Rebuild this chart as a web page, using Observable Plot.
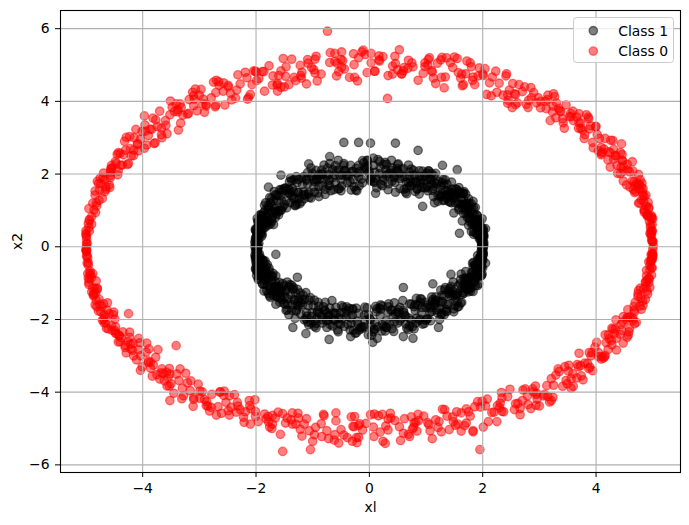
<!DOCTYPE html>
<html><head><meta charset="utf-8">
<script src="https://cdn.jsdelivr.net/npm/d3@7"></script>
<script src="https://cdn.jsdelivr.net/npm/@observablehq/plot@0.6"></script>
<style>body{margin:0;background:#fff;}</style>
</head><body><div id="chart"></div>
<script>
// Class 1 (inner ring) points
const class1PartA = [
[2.01,0.11],[1.99,-0.18],[2.02,0.27],[2.00,-0.04],[1.99,0.31],[2.01,0.01],[2.00,0.46],[2.02,0.12],[1.98,0.07],[2.00,0.38],[1.99,0.26],[2.01,0.50],
[1.97,0.55],[1.99,0.10],[1.98,0.39],[2.00,0.29],[1.97,0.26],[1.95,0.55],[1.94,0.74],[1.96,0.37],[2.05,0.50],[1.92,0.71],[1.95,0.25],[1.93,0.56],[1.94,0.41],
[1.91,0.54],[1.89,0.88],[1.90,0.74],[1.59,0.37],[1.85,0.89],[1.88,0.58],[1.84,1.07],[1.87,0.75],[1.85,0.60],[1.82,0.90],[1.81,1.05],[1.84,0.75],
[1.76,1.20],[1.79,0.79],[1.78,0.96],[1.75,1.32],[1.81,0.61],[1.74,0.93],[1.71,1.19],[1.76,0.78],[1.72,1.10],[1.66,1.32],[1.70,0.92],[1.68,1.15],[1.65,1.46],
[1.64,1.07],[1.60,1.46],[1.62,1.32],[1.66,0.92],[1.53,1.43],[1.56,1.21],[1.52,1.59],[1.58,1.07],[1.49,1.36],[1.46,1.59],[1.52,1.20],[1.45,1.78],[1.48,1.45],
[1.45,1.21],[1.39,1.55],[1.37,1.72],[1.42,1.38],[1.29,2.24],[1.31,1.70],[1.37,1.33],[1.34,1.55],[1.30,1.85],[1.28,1.46],[1.23,1.79],[1.26,1.67],[1.30,1.27],[1.55,2.12],
[1.15,1.77],[1.21,1.41],[1.14,1.95],[1.18,1.64],[1.11,1.55],[1.06,1.87],[1.09,1.73],[1.05,2.08],[1.13,1.38],[0.97,1.95],[1.02,1.65],[0.99,1.84],[1.03,1.54],[0.94,1.11],
[0.88,2.09],[0.93,1.63],[0.91,1.82],[0.89,1.94],[0.86,2.65],[0.84,1.59],[0.79,1.95],[0.78,2.10],[0.82,1.80],[0.70,1.95],[0.74,1.69],[0.69,2.25],[0.71,2.06],[0.73,1.80],
[0.65,1.78],[0.60,2.15],[0.62,1.93],[0.66,1.61],[0.49,2.09],[0.54,1.87],[0.50,2.26],[0.53,2.02],[0.46,2.85],[0.45,1.77],[0.40,2.17],[0.42,2.03],[0.44,1.94],[0.39,2.38],
[0.29,2.11],[0.34,1.73],[0.30,2.27],[0.32,2.00],[0.23,1.91],[0.19,2.17],[0.18,2.35],[0.24,1.82],[0.11,1.47],[0.08,2.24],[0.12,1.88],[0.10,2.05],[0.07,2.44],[0.02,2.85],
[0.02,1.85],[-0.03,2.22],[0.00,2.07],[-0.04,2.38],[-0.08,2.12],[-0.12,1.76],[-0.10,2.31],[-0.19,2.87],[-0.19,1.93],[-0.23,2.16],[-0.18,1.68],[-0.22,2.03],
[-0.33,2.24],[-0.29,1.85],[-0.31,2.07],[-0.45,2.87],[-0.39,1.76],[-0.44,2.10],[-0.45,2.29],[-0.41,1.95],[-0.54,2.12],[-0.50,1.84],[-0.52,1.97],[-0.55,2.38],[-0.49,1.67],
[-0.60,1.76],[-0.65,2.13],[-0.62,1.98],[-0.74,2.17],[-0.70,1.68],[-0.72,1.99],[-0.71,1.83],[-0.70,2.48],[-0.78,1.58],[-0.83,1.99],[-0.81,1.86],[-0.84,2.11],
[-0.93,1.87],[-0.89,1.65],[-0.94,2.10],[-0.89,1.38],[-0.98,1.66],[-1.02,1.93],[-1.03,2.17],[-0.97,1.50],[-1.11,1.83],[-1.07,1.50],[-1.09,1.73],[-1.07,2.28],
[-1.16,1.51],[-1.20,1.89],[-1.18,1.71],[-1.15,1.32],[-1.28,1.76],[-1.25,1.49],[-1.29,1.93],[-1.24,1.33],[-1.32,1.34],[-1.36,1.61],[-1.34,1.52],[-1.37,1.82],[-1.31,1.15],
[-1.43,1.59],[-1.39,1.21],[-1.41,1.47],[-1.47,1.26],[-1.51,1.60],[-1.56,1.97],[-1.46,1.07],[-1.57,1.40],[-1.53,1.09],[-1.58,1.57],[-1.55,1.27],
[-1.60,0.97],[-1.63,1.27],[-1.78,1.64],[-1.64,1.42],[-1.70,1.26],[-1.67,0.97],[-1.68,1.11],[-1.66,0.80],[-1.72,0.95],[-1.75,1.21],[-1.76,1.35],[-1.71,0.82],
[-1.79,1.02],[-1.77,0.68],[-1.78,0.93],[-1.82,0.65],[-1.84,1.00],[-1.83,0.87],[-1.85,1.14],[-1.88,0.86],[-1.86,0.51],[-1.87,0.68],
[-1.90,0.53],[-1.91,0.85],[-1.90,0.70],[-1.89,0.34],[-1.94,0.68],[-1.92,0.38],[-1.93,0.55],[-1.95,0.22],[-1.97,0.54],[-1.97,0.69],[-1.96,0.39],
[-1.99,0.40],[-1.98,0.14],[-1.99,0.50],[-1.99,0.10],[-2.00,0.26],[-2.01,0.45],[-1.98,-0.05],[-2.01,0.23],[-2.00,0.02],[-2.02,0.12],
[-2.01,-0.12],[-1.99,0.07],[-2.02,-0.24],[-1.65,-0.21],[-2.00,0.04],[-2.01,-0.29],[-1.99,-0.07],[-2.00,-0.44],[-1.98,-0.11],[-1.99,-0.26],[-1.97,0.00],
[-1.97,-0.15],[-1.99,-0.45],[-2.00,-0.63],[-1.96,-0.50],[-1.94,-0.20],[-1.98,-0.69],[-1.95,-0.37],[-1.92,-0.34],[-1.95,-0.72],[-1.93,-0.54],[-1.96,-0.90],
[-1.91,-0.73],[-1.88,-0.36],[-1.90,-0.54],[-1.89,-1.01],[-1.85,-0.58],[-1.87,-0.77],[-1.84,-0.39],[-1.82,-0.71],[-1.85,-1.03],[-1.86,-1.22],[-1.83,-0.80],
[-1.80,-1.07],[-1.76,-0.68],[-1.78,-0.85],[-1.81,-1.21],[-1.71,-0.81],[-1.74,-1.09],[-1.76,-1.35],[-1.73,-0.96],[-1.70,-1.33],[-1.66,-0.96],[-1.68,-1.11],[-1.65,-0.80],
[-1.60,-1.10],[-1.64,-1.36],[-1.65,-1.58],[-1.59,-0.98],[-1.57,-1.38],[-1.53,-1.01],[-1.58,-1.53],[-1.55,-1.23],[-1.27,-0.84],[-1.46,-1.19],[-1.51,-1.55],[-1.45,-0.97],[-1.49,-1.38],
[-1.44,-1.58],[-1.39,-1.32],[-1.45,-1.74],[-1.35,-2.22],[-1.30,-1.27],[-1.36,-1.60],[-1.33,-1.45],[-1.37,-1.75],[-1.27,-1.61],[-1.22,-1.27],[-1.29,-1.74],[-1.24,-1.42],[-1.31,-1.97],
[-1.14,-1.45],[-1.21,-1.86],[-1.18,-1.60],[-1.12,-2.39],[-1.11,-1.81],[-1.06,-1.47],[-1.12,-1.98],[-1.08,-1.62],[-0.97,-1.47],[-1.01,-1.81],[-1.03,-2.10],[-0.99,-1.62],
[-0.93,-1.98],[-0.89,-1.64],[-0.91,-1.77],[-0.94,-2.23],[-0.79,-1.74],[-0.83,-2.10],[-0.78,-1.53],[-0.71,-2.55],[-0.74,-2.02],[-0.70,-1.68],[-0.72,-1.91],[-0.75,-2.22],
[-0.59,-1.67],[-0.63,-2.00],[-0.61,-1.83],[-0.65,-2.18],[-0.54,-2.11],[-0.50,-1.81],[-0.55,-2.34],[-0.49,-1.62],[-0.41,-1.91],[-0.44,-2.19],[-0.40,-1.76],[-0.33,-2.47],
[-0.32,-2.10],[-0.29,-1.71],[-0.34,-2.29],[-0.30,-1.89],[-0.19,-1.83],[-0.22,-2.05],[-0.23,-2.37],[-0.12,-2.21],[-0.09,-1.89],[-0.08,-1.66],[0.06,-2.63],
[-0.02,-1.87],[0.03,-2.19],[0.01,-1.98],[0.14,-2.52],[0.08,-2.27],[0.12,-1.79],[0.10,-2.08],[0.11,-1.64],[0.19,-1.90],[0.23,-2.14],[0.20,-1.72],[0.22,-2.32],
[0.29,-2.04],[0.33,-1.80],[0.30,-2.22],[0.34,-1.57],[0.40,-1.74],[0.44,-2.07],[0.42,-1.92],[0.43,-2.33],[0.50,-2.10],[0.54,-1.67],[0.52,-1.83],[0.60,-2.47],
[0.60,-1.75],[0.64,-2.12],[0.62,-1.88],[0.60,-1.12],[0.70,-1.96],[0.74,-1.58],[0.71,-2.18],[0.77,-2.52],[0.79,-1.65],[0.83,-1.97],[0.81,-1.76],[0.82,-2.10],
[0.89,-1.99],[0.93,-1.67],[0.90,-1.43],[0.92,-1.80],[0.98,-1.53],[1.02,-1.98],[1.00,-1.67],[1.12,-1.02],[1.07,-1.80],[1.11,-1.51],[1.08,-2.04],[1.10,-1.38],
[1.16,-1.54],[1.20,-1.82],[1.22,-2.22],[1.17,-1.38],[1.24,-1.70],[1.28,-1.34],[1.26,-1.53],[1.27,-1.88],[1.32,-1.35],[1.36,-1.58],[1.33,-1.18],[1.35,-1.72],
[1.39,-1.59],[1.43,-1.35],[1.40,-1.19],[1.44,-0.76],[1.47,-1.22],[1.51,-1.62],[1.49,-1.31],[1.48,-0.97],[1.53,-1.33],[1.57,-1.07],[1.55,-1.50],
[1.60,-1.02],[1.64,-1.31],[1.61,-0.90],[1.63,-1.53],[1.67,-1.28],[1.70,-1.01],[1.67,-0.86],[1.69,-1.14],[1.72,-0.87],[1.75,-1.24],[1.73,-0.99],
[1.77,-1.05],[1.80,-0.71],[1.78,-0.84],[1.79,-1.22],[1.82,-0.70],[1.85,-0.98],[1.83,-0.55],[1.86,-0.94],[1.88,-0.68],[1.87,-0.54],[1.89,-0.81],
[1.90,-0.47],[1.91,-0.74],[2.05,-0.45],[1.93,-0.58],[1.94,-0.31],[1.92,-0.77],[1.95,-0.43],[1.96,-0.30],[1.97,-0.58],[1.95,-0.40],
[1.98,-0.41],[1.99,-0.08],[1.97,-0.26],[2.00,-0.58],[1.99,-0.07],[2.00,-0.34],[2.01,-0.18],[2.00,-0.25],[2.01,-0.02]
];
const class1PartB = [
[2.01,0.34],[1.99,-0.27],[2.02,0.32],[1.99,0.37],[2.00,0.17],[1.98,0.00],[2.01,0.45],[1.98,-0.02],[1.99,0.40],[1.97,0.23],[2.00,-0.11],[1.97,0.15],
[1.98,0.31],[1.96,0.45],[1.99,0.77],[1.96,0.36],[1.96,0.54],[1.94,0.22],[1.97,0.30],[1.94,0.67],[1.93,0.60],[1.91,0.65],[1.94,0.48],[1.91,0.85],
[1.90,0.47],[1.88,0.65],[1.91,0.32],[1.88,0.37],[1.86,0.72],[1.84,0.34],[1.87,1.08],[1.84,0.41],[1.82,0.65],[1.80,0.42],[1.83,1.25],[1.80,1.18],
[1.77,0.69],[1.75,0.59],[1.78,1.00],[1.75,1.03],[1.72,1.18],[1.70,1.01],[1.73,0.80],[1.70,1.45],[1.66,1.48],[1.64,1.17],[1.67,1.52],[1.64,0.71],
[1.60,1.50],[1.58,1.63],[1.61,1.17],[1.58,1.02],[1.54,1.58],[1.49,0.93],[1.56,1.53],[1.51,1.44],[1.47,1.46],[1.42,1.23],[1.49,1.33],[1.44,1.48],
[1.40,1.25],[1.35,1.42],[1.42,1.50],[1.37,1.43],[1.32,1.28],[1.27,1.40],[1.34,1.84],[1.29,1.77],[1.24,1.42],[1.19,1.73],[1.26,1.38],[1.21,1.25],
[1.15,1.21],[1.10,2.01],[1.17,2.02],[1.12,1.60],[1.07,1.84],[1.02,2.03],[1.09,1.85],[1.04,2.09],[0.97,1.62],[0.92,1.85],[1.00,1.62],[0.94,2.08],
[0.88,1.45],[0.83,1.76],[0.90,1.75],[0.85,1.59],[0.79,1.98],[0.74,2.14],[0.81,1.52],[0.76,1.75],[0.69,1.76],[0.64,1.50],[0.71,1.67],[0.66,1.46],
[0.59,1.91],[0.54,1.60],[0.61,1.58],[0.56,2.13],[0.49,2.15],[0.44,1.90],[0.51,2.28],[0.46,1.50],[0.38,2.11],[0.33,1.57],[0.40,1.80],[0.35,2.02],
[0.28,2.32],[0.23,1.68],[0.30,1.96],[0.25,2.26],[0.18,2.01],[0.13,1.62],[0.20,1.72],[0.15,2.40],[0.07,1.80],[0.02,1.81],[0.09,1.77],[0.04,1.91],
[-0.03,2.37],[-0.08,2.19],[-0.01,2.03],[-0.06,2.13],[-0.14,1.86],[-0.19,2.24],[-0.12,2.37],[-0.17,2.07],[-0.24,1.56],[-0.29,2.07],[-0.22,1.54],[-0.27,1.65],
[-0.34,1.79],[-0.39,2.00],[-0.32,1.56],[-0.37,1.95],[-0.45,2.24],[-0.50,1.54],[-0.43,2.09],[-0.48,1.97],[-0.55,1.59],[-0.60,2.23],[-0.53,1.60],[-0.58,2.09],
[-0.65,1.90],[-0.70,2.29],[-0.63,1.57],[-0.68,1.54],[-0.75,1.94],[-0.80,2.25],[-0.73,1.70],[-0.78,1.44],[-0.84,2.01],[-0.89,1.99],[-0.82,1.68],[-0.87,1.87],
[-0.93,1.84],[-0.98,1.84],[-0.91,1.48],[-0.96,1.79],[-1.03,1.34],[-1.08,1.45],[-1.01,2.03],[-1.06,1.36],[-1.11,1.86],[-1.16,1.93],[-1.09,2.04],[-1.14,1.43],
[-1.20,1.24],[-1.25,1.85],[-1.18,1.42],[-1.23,1.18],[-1.28,1.17],[-1.33,1.84],[-1.26,1.50],[-1.31,1.13],[-1.36,1.40],[-1.41,1.56],[-1.34,1.33],[-1.39,1.89],
[-1.43,1.49],[-1.48,1.60],[-1.41,1.79],[-1.46,1.53],[-1.50,1.16],[-1.55,1.01],[-1.48,1.62],[-1.53,1.53],[-1.57,1.01],[-1.62,0.99],[-1.55,1.57],[-1.60,0.88],
[-1.63,0.92],[-1.68,1.52],[-1.61,1.41],[-1.66,1.43],[-1.69,0.61],[-1.74,0.77],[-1.67,1.04],[-1.72,0.71],[-1.74,0.63],[-1.78,0.60],[-1.73,1.33],[-1.77,1.09],
[-1.80,0.72],[-1.83,1.21],[-1.79,1.12],[-1.82,0.70],[-1.84,0.66],[-1.87,0.73],[-1.83,0.55],[-1.86,0.71],[-1.88,0.56],[-1.90,0.51],[-1.87,0.93],[-1.90,0.67],
[-1.91,0.37],[-1.93,0.88],[-1.90,0.29],[-1.93,0.76],[-1.94,0.64],[-1.96,0.37],[-1.93,0.86],[-1.96,0.70],[-1.96,0.00],[-1.98,0.43],[-1.95,0.09],[-1.98,0.78],
[-1.97,0.25],[-1.99,0.21],[-1.97,0.34],[-1.99,0.02],[-1.98,-0.23],[-2.00,0.44],[-1.98,0.29],[-2.00,-0.24],[-1.99,-0.15],[-2.01,0.16],[-1.99,-0.33],[-2.01,0.49],
[-2.01,-0.35],[-1.99,0.29],[-2.02,0.00],[-1.99,-0.22],[-2.00,-0.56],[-1.98,-0.02],[-2.01,-0.61],[-1.98,0.17],[-1.99,-0.31],[-1.97,-0.06],[-2.00,-0.05],[-1.97,-0.60],
[-1.98,-0.68],[-1.96,-0.37],[-1.99,-0.79],[-1.96,-0.58],[-1.96,-0.86],[-1.94,-0.60],[-1.97,-0.57],[-1.94,-0.80],[-1.93,-0.28],[-1.91,-0.44],[-1.94,-0.79],[-1.91,-0.63],
[-1.90,-0.72],[-1.88,-1.03],[-1.91,-0.35],[-1.88,-0.81],[-1.86,-0.68],[-1.84,-0.91],[-1.87,-0.39],[-1.84,-0.63],[-1.82,-0.54],[-1.80,-0.73],[-1.83,-0.91],[-1.80,-0.49],
[-1.77,-0.59],[-1.75,-1.39],[-1.78,-1.29],[-1.75,-1.16],[-1.72,-0.91],[-1.70,-1.22],[-1.73,-0.80],[-1.70,-0.73],[-1.66,-1.25],[-1.64,-1.37],[-1.67,-1.15],[-1.64,-1.08],
[-1.60,-1.25],[-1.58,-1.42],[-1.61,-1.12],[-1.58,-1.27],[-1.54,-1.45],[-1.49,-1.22],[-1.56,-1.16],[-1.51,-1.07],[-1.47,-1.75],[-1.42,-1.10],[-1.49,-1.58],[-1.44,-1.43],
[-1.40,-1.04],[-1.35,-1.17],[-1.42,-1.87],[-1.37,-1.06],[-1.32,-1.48],[-1.27,-1.17],[-1.34,-1.12],[-1.29,-1.77],[-1.24,-1.63],[-1.19,-1.46],[-1.26,-1.51],[-1.21,-1.54],
[-1.15,-2.01],[-1.10,-1.91],[-1.17,-1.33],[-1.12,-1.26],[-1.07,-2.15],[-1.02,-1.92],[-1.09,-2.07],[-1.04,-1.40],[-0.97,-2.19],[-0.92,-1.81],[-0.99,-2.06],[-0.94,-2.11],
[-0.88,-1.83],[-0.83,-2.01],[-0.90,-1.53],[-0.85,-1.90],[-0.79,-1.77],[-0.74,-1.82],[-0.81,-1.65],[-0.76,-2.02],[-0.69,-2.14],[-0.64,-1.82],[-0.71,-1.89],[-0.66,-1.48],
[-0.59,-1.83],[-0.54,-1.97],[-0.61,-2.03],[-0.56,-2.29],[-0.49,-1.98],[-0.44,-1.81],[-0.51,-2.13],[-0.46,-1.66],[-0.38,-2.13],[-0.33,-1.96],[-0.40,-1.65],[-0.35,-1.70],
[-0.28,-2.30],[-0.23,-1.69],[-0.30,-1.72],[-0.25,-2.38],[-0.18,-2.29],[-0.13,-2.25],[-0.20,-2.13],[-0.15,-2.22],[-0.07,-2.02],[-0.02,-2.42],[-0.09,-2.20],[-0.04,-1.68],
[0.07,-2.34],[0.02,-2.01],[0.09,-2.28],[0.04,-2.44],[0.18,-1.69],[0.13,-1.71],[0.20,-1.60],[0.15,-2.20],[0.28,-2.32],[0.23,-1.63],[0.30,-2.21],[0.25,-2.19],
[0.38,-1.74],[0.33,-1.65],[0.40,-2.26],[0.35,-2.11],[0.49,-1.80],[0.44,-1.54],[0.51,-1.73],[0.46,-1.84],[0.59,-1.48],[0.54,-2.04],[0.61,-1.81],[0.56,-1.97],
[0.69,-2.28],[0.64,-1.91],[0.71,-1.57],[0.66,-2.24],[0.79,-2.26],[0.74,-2.02],[0.81,-1.59],[0.76,-2.20],[0.88,-2.03],[0.83,-1.42],[0.90,-1.53],[0.85,-1.60],
[0.97,-2.11],[0.92,-1.44],[0.99,-2.02],[0.94,-2.13],[1.07,-1.68],[1.02,-1.99],[1.09,-1.63],[1.03,-1.60],[1.15,-1.59],[1.10,-1.78],[1.17,-1.47],[1.12,-1.45],
[1.24,-2.00],[1.19,-1.74],[1.26,-1.19],[1.21,-1.50],[1.32,-1.87],[1.27,-1.84],[1.34,-1.12],[1.29,-1.51],[1.40,-1.28],[1.35,-1.77],[1.42,-1.14],[1.37,-1.78],
[1.47,-1.36],[1.42,-1.24],[1.49,-1.79],[1.44,-1.09],[1.54,-1.32],[1.49,-1.71],[1.56,-1.27],[1.51,-1.48],[1.61,-1.55],[1.56,-1.66],[1.63,-1.13],[1.58,-1.64],
[1.67,-1.05],[1.62,-0.75],[1.69,-0.88],[1.64,-1.26],[1.73,-0.92],[1.68,-1.02],[1.75,-0.86],[1.70,-0.68],[1.77,-1.04],[1.74,-1.18],[1.78,-1.14],[1.75,-1.15],
[1.82,-0.45],[1.79,-1.13],[1.83,-1.23],[1.80,-0.84],[1.86,-0.49],[1.83,-0.79],[1.87,-1.07],[1.84,-0.43],[1.90,-0.62],[1.88,-0.84],[1.91,-1.07],[1.88,-0.53],
[1.93,-1.02],[1.91,-0.24],[1.94,-0.62],[1.91,-0.37],[1.96,-0.26],[1.94,-0.81],[1.97,-0.79],[1.94,-0.48],[1.98,-0.79],[1.96,-0.58],[1.99,-0.75],[1.96,-0.49],
[1.99,-0.36],[1.97,-0.59],[2.00,0.03],[1.97,-0.13],[2.00,-0.38],[1.98,-0.22],[2.01,-0.21],[1.98,-0.52],[2.01,0.27],[1.99,-0.19],[2.02,0.04],[2.00,-0.12]
];
// Class 0 (outer ring) points
const class0PartA = [
[5.00,0.14],[4.99,-0.31],[5.01,0.02],[4.99,0.61],[4.98,0.18],[5.00,0.77],[4.99,0.45],[4.97,0.30],[4.96,0.61],[4.98,0.85],
[4.93,1.05],[4.95,0.37],[4.94,0.83],[4.92,1.22],[4.90,0.88],[4.88,1.42],[4.89,1.11],[4.82,1.50],[4.85,1.00],[4.81,1.75],[4.84,1.25],[4.83,1.41],
[4.77,1.20],[4.75,1.72],[4.76,1.58],[4.65,2.08],[4.69,1.67],[4.64,2.34],[4.70,1.52],[4.56,2.11],[4.60,1.64],[4.55,2.27],
[4.49,2.08],[4.43,2.59],[4.46,2.38],[4.48,2.22],[4.30,2.92],[4.37,2.24],[4.34,2.51],[4.31,2.68],[4.38,2.02],[4.22,2.61],[4.16,2.98],[4.21,2.39],
[4.02,3.09],[4.09,2.73],[4.00,3.31],[4.06,2.98],[3.94,2.87],[3.88,3.24],[3.83,3.63],[3.66,3.57],[3.76,3.21],[3.70,3.66],[3.79,2.98],[3.73,3.41],
[3.60,3.47],[3.47,3.90],[3.55,3.67],[3.30,3.96],[3.42,3.41],[3.36,3.74],[3.27,4.13],[3.23,3.71],[3.11,4.00],[3.19,3.47],
[2.85,4.38],[2.98,4.10],[3.02,3.82],[2.90,4.24],[2.95,3.96],[2.64,4.46],[2.80,3.83],[2.70,4.27],[2.58,4.19],[2.42,4.76],[2.53,4.49],[2.47,4.31],
[2.17,4.67],[2.36,4.17],[2.29,4.50],[2.12,4.51],[1.94,4.92],[2.07,4.19],[2.01,4.71],[1.70,4.76],[1.86,4.46],[1.80,4.95],
[1.64,4.43],[1.47,4.93],[1.57,4.79],[1.50,5.22],[1.61,4.64],[1.20,5.05],[1.34,4.67],[1.28,5.21],[1.13,4.64],[0.98,4.96],[1.06,5.20],[1.10,4.85],
[0.69,5.13],[0.86,4.58],[0.77,4.95],[0.60,4.84],[0.45,5.24],[0.53,5.42],[0.57,4.75],[0.18,5.11],[0.33,4.71],[0.24,5.23],[0.32,4.08],
[0.09,4.83],[-0.07,5.29],[0.03,5.06],[-0.11,5.41],[-0.19,5.20],[-0.35,4.66],[-0.27,5.01],[-0.44,4.89],[-0.61,5.32],[-0.50,5.15],[-0.58,4.70],
[-0.70,5.07],[-0.85,4.75],[-0.74,5.93],[-0.96,5.16],[-1.11,4.48],[-1.02,4.93],[-1.08,5.05],[-1.21,4.71],[-1.37,5.16],[-1.30,4.57],
[-1.47,4.95],[-1.60,4.71],[-1.52,5.18],[-1.63,4.45],[-1.56,4.84],[-1.71,4.45],[-1.86,4.82],[-1.77,4.98],[-1.95,4.63],[-2.10,4.19],[-2.00,4.81],[-2.07,4.46],
[-2.19,4.80],[-2.34,4.31],[-2.28,4.48],[-2.43,4.04],[-2.57,4.51],[-2.49,4.40],[-2.55,3.90],[-2.65,4.44],[-2.79,4.10],[-2.70,4.58],
[-2.88,3.87],[-3.00,4.17],[-2.91,3.70],[-2.97,4.33],[-2.93,4.06],[-3.09,4.06],[-3.21,3.65],[-3.12,4.25],[-3.29,3.62],[-3.41,3.93],[-3.33,3.40],[-3.38,3.77],
[-3.48,3.84],[-3.59,3.34],[-3.52,3.63],[-3.67,3.08],[-3.77,3.49],[-3.70,3.73],[-3.74,3.31],[-3.84,3.23],[-3.93,2.80],[-3.97,3.60],
[-4.01,3.17],[-4.09,2.81],[-4.04,2.96],[-4.07,2.64],[-4.16,2.66],[-4.23,3.03],[-4.20,2.50],[-4.30,2.66],[-4.36,2.25],[-4.32,2.90],[-4.34,2.53],
[-4.43,2.08],[-4.48,2.35],[-4.45,2.54],[-4.55,2.24],[-4.59,1.70],[-4.57,1.96],[-4.56,2.15],[-4.65,1.65],[-4.69,2.03],[-4.67,1.84],
[-4.74,1.73],[-4.77,1.28],[-4.76,1.56],[-4.82,1.20],[-4.84,1.42],[-4.88,1.20],[-4.90,0.83],[-4.94,0.72],[-4.95,0.53],[-4.96,0.64],[-4.98,0.09],[-4.99,0.19],[-5.00,0.37],
[-5.00,-0.08],[-4.99,-0.27],[-4.98,-0.45],[-4.99,-0.13],[-4.97,-0.31],[-4.96,-0.44],[-4.97,-0.74],[-4.95,-1.04],[-4.93,-0.73],[-4.94,-0.89],
[-4.88,-1.13],[-4.90,-0.85],[-4.87,-1.35],[-4.84,-1.15],[-4.82,-1.47],[-4.81,-1.65],[-4.83,-1.27],[-4.74,-1.78],[-4.77,-1.44],[-4.76,-1.59],
[-4.69,-1.57],[-4.65,-2.10],[-4.68,-1.87],[-4.64,-2.24],[-4.55,-2.17],[-4.59,-1.84],[-4.54,-2.30],[-4.48,-2.20],[-4.43,-2.62],[-4.46,-2.39],[-4.49,-1.99],
[-4.31,-2.71],[-4.35,-2.34],[-4.29,-2.92],[-4.25,-1.84],[-4.21,-2.68],[-4.16,-3.00],[-4.23,-2.49],[-4.18,-2.85],[-4.01,-3.30],[-4.07,-2.83],[-4.04,-3.00],
[-3.94,-2.90],[-3.86,-3.34],[-3.90,-3.18],[-3.83,-3.56],[-3.68,-3.47],[-3.77,-3.04],[-3.70,-3.64],
[-3.58,-3.45],[-3.50,-3.77],[-3.41,-2.72],[-3.52,-4.23],[-3.55,-3.60],[-3.30,-3.89],[-3.40,-3.50],[-3.28,-4.10],[-3.36,-3.68],[-3.21,-3.74],[-3.10,-4.15],[-3.16,-3.96],
[-2.88,-4.37],[-2.99,-3.97],[-3.02,-3.78],[-2.91,-4.20],[-2.78,-4.06],[-2.67,-4.40],[-2.70,-4.63],[-2.44,-4.42],[-2.57,-4.09],[-2.47,-4.63],[-2.53,-4.28],[-2.49,-4.51],
[-2.33,-4.28],[-2.21,-4.83],[-2.28,-4.48],[-1.96,-4.81],[-2.09,-4.46],[-2.12,-4.23],[-2.01,-4.67],[-1.72,-5.00],[-1.85,-4.60],[-1.78,-4.82],
[-1.61,-4.55],[-1.48,-4.85],[-1.57,-5.16],[-1.53,-5.63],[-1.22,-5.02],[-1.36,-4.57],[-1.30,-4.88],[-1.25,-4.71],[-1.04,-5.58],[-1.11,-4.73],[-0.97,-5.17],
[-0.85,-4.87],[-0.72,-5.28],[-0.80,-4.65],[-0.75,-5.06],[-0.45,-5.18],[-0.59,-4.79],[-0.50,-5.03],[-0.32,-4.68],[-0.19,-5.24],[-0.27,-4.95],[-0.22,-5.39],
[-0.06,-4.86],[0.08,-5.22],[0.02,-4.62],[0.19,-5.10],[0.33,-4.74],[0.24,-5.35],[0.29,-4.93],[0.45,-4.78],[0.60,-5.13],[0.53,-4.95],
[0.71,-5.22],[0.86,-4.61],[0.76,-5.01],[0.82,-4.83],[0.96,-4.66],[1.11,-5.28],[1.03,-4.84],[1.21,-4.97],[1.37,-4.66],[1.27,-5.09],[1.33,-4.48],
[1.47,-4.68],[1.62,-5.07],[1.54,-4.54],[1.71,-4.85],[1.86,-4.40],[1.78,-4.66],[1.83,-5.09],[1.75,-4.54],[1.96,-4.41],[2.10,-4.81],[1.95,-5.58],
[2.20,-4.55],[2.34,-4.16],[2.25,-4.81],[2.30,-4.42],[2.44,-4.12],[2.56,-4.48],[2.48,-3.92],[2.66,-4.45],[2.79,-4.10],[2.70,-4.23],[2.75,-3.91],
[2.88,-3.91],[3.00,-4.38],[2.95,-4.03],[3.09,-4.06],[3.21,-3.63],[3.13,-3.82],[3.18,-4.27],[3.29,-3.53],[3.41,-3.84],[3.33,-3.36],
[3.49,-3.77],[3.59,-3.49],[3.52,-3.26],[3.56,-3.63],[3.67,-3.24],[3.77,-3.66],[3.70,-2.93],[3.85,-3.21],[3.93,-2.91],[3.87,-3.35],[3.91,-3.00],
[4.01,-2.63],[4.09,-3.09],[4.04,-2.91],[4.16,-2.99],[4.23,-2.53],[4.18,-2.64],[4.21,-2.83],[4.30,-2.27],[4.36,-2.84],[4.32,-2.38],
[4.43,-2.41],[4.48,-1.92],[4.45,-2.30],[4.47,-2.07],[4.55,-1.94],[4.59,-2.25],[4.56,-1.73],[4.65,-1.96],[4.69,-1.53],[4.67,-1.75],[4.68,-2.12],
[4.74,-1.37],[4.77,-1.63],[4.75,-1.20],[4.82,-1.50],[4.84,-1.16],[4.88,-0.97],[4.90,-1.22],[4.89,-0.80],[4.93,-0.87],[4.95,-0.63],
[4.96,-0.41],[4.98,-0.78],[4.97,-0.22],[4.99,-0.34],[5.00,-0.07]
];
const class0PartB = [
[5.00,-0.29],[5.00,-0.19],[4.99,0.43],[5.00,0.14],[4.98,0.34],[4.98,0.82],[4.98,0.77],[4.99,0.17],[4.97,0.44],[4.94,0.71],[4.97,0.36],[4.96,0.53],
[4.91,0.87],[4.90,0.85],[4.93,1.08],[4.92,0.87],[4.85,1.01],[4.83,1.60],[4.85,0.95],[4.85,1.39],[4.76,1.72],[4.80,1.29],[4.78,1.84],[4.80,1.64],
[4.75,1.20],[4.71,1.74],[4.68,1.49],[4.75,1.99],[4.67,1.79],[4.64,1.81],[4.59,2.06],[4.66,1.57],[4.54,1.70],[4.46,2.54],[4.47,2.36],[4.48,1.81],
[4.44,2.19],[4.35,2.50],[4.43,2.01],[4.45,2.83],[4.26,2.93],[4.31,2.41],[4.25,2.19],[4.25,2.59],[4.11,2.60],[4.14,2.69],[4.09,2.57],[4.09,2.53],
[4.04,2.64],[3.99,3.30],[3.90,3.33],[3.95,2.72],[3.87,3.52],[3.86,3.57],[3.73,3.26],[3.80,3.09],[3.59,3.73],[3.69,3.26],[3.56,3.58],[3.70,3.41],
[3.44,3.26],[3.41,3.52],[3.53,3.58],[3.38,3.72],[3.25,4.21],[3.34,3.80],[3.24,3.87],[3.29,3.55],[3.12,3.80],[3.15,4.17],[3.02,4.00],[3.14,4.05],
[2.81,4.03],[2.74,4.40],[2.77,3.92],[2.86,4.10],[2.58,3.91],[2.61,3.96],[2.56,4.21],[2.52,3.83],[2.41,4.70],[2.45,4.03],[2.44,4.18],[2.44,3.95],
[2.04,4.90],[2.23,4.83],[2.25,4.25],[2.15,4.15],[1.83,4.67],[1.92,4.70],[2.00,4.75],[1.82,4.58],[1.66,4.46],[1.72,5.11],[1.78,5.06],[1.63,4.75],
[1.55,5.18],[1.32,4.37],[1.43,5.07],[1.36,5.20],[1.11,4.81],[1.27,4.66],[1.26,5.14],[1.17,4.49],[1.04,5.15],[0.98,5.06],[1.03,5.00],[0.95,4.77],
[0.68,4.91],[0.75,5.06],[0.57,4.76],[0.61,4.93],[0.46,5.04],[0.41,4.97],[0.41,4.75],[0.50,4.87],[0.03,5.32],[0.17,5.25],[0.10,4.83],[0.17,5.14],
[-0.04,4.79],[-0.26,4.66],[-0.21,4.56],[-0.13,5.36],[-0.49,5.36],[-0.49,4.94],[-0.47,5.12],[-0.28,5.31],[-0.61,5.10],[-0.69,5.34],[-0.54,4.82],[-0.57,5.05],
[-0.96,4.78],[-0.94,5.24],[-0.92,4.56],[-0.98,4.87],[-1.19,4.80],[-1.20,4.64],[-1.22,4.99],[-1.09,5.15],[-1.42,4.46],[-1.48,4.69],[-1.33,4.66],[-1.50,4.40],
[-1.62,4.49],[-1.62,4.28],[-1.70,4.70],[-1.56,4.39],[-1.85,4.28],[-2.01,4.83],[-1.89,4.82],[-1.99,4.57],[-2.04,4.84],[-2.15,4.06],[-2.16,4.65],[-2.13,4.11],
[-2.45,4.22],[-2.49,4.44],[-2.32,4.73],[-2.36,4.09],[-2.71,4.24],[-2.66,4.54],[-2.58,4.28],[-2.71,3.89],[-2.72,3.85],[-2.75,4.53],[-2.88,3.92],[-2.94,3.93],
[-3.04,3.74],[-3.10,3.88],[-3.07,4.34],[-3.10,4.16],[-3.32,3.83],[-3.34,3.93],[-3.19,3.67],[-3.18,4.05],[-3.51,4.01],[-3.38,3.71],[-3.37,3.21],[-3.44,3.72],
[-3.66,3.00],[-3.57,3.11],[-3.67,3.26],[-3.60,3.47],[-3.80,2.84],[-3.87,3.23],[-3.82,3.54],[-3.78,2.86],[-3.95,3.18],[-3.90,3.06],[-3.97,2.71],[-3.96,3.35],
[-4.16,2.51],[-4.15,3.00],[-4.09,2.84],[-4.12,3.23],[-4.25,2.29],[-4.27,2.26],[-4.22,2.70],[-4.29,3.01],[-4.39,2.24],[-4.44,1.98],[-4.43,2.59],[-4.40,2.57],
[-4.57,1.90],[-4.47,2.29],[-4.56,2.13],[-4.54,2.17],[-4.67,1.51],[-4.57,2.05],[-4.58,1.63],[-4.65,1.58],[-4.75,1.89],[-4.71,1.33],[-4.70,1.90],
[-4.78,1.74],[-4.80,1.80],[-4.81,1.13],[-4.83,0.94],[-4.84,1.53],[-4.86,1.01],[-4.90,0.62],[-4.94,0.43],[-4.95,1.05],[-4.94,0.75],[-4.99,-0.01],[-4.99,0.28],[-5.00,0.32],[-5.00,-0.10],
[-5.00,0.44],[-4.99,0.08],[-4.98,-0.23],[-4.99,-0.11],[-4.96,-0.51],[-4.96,-0.86],[-4.95,-0.98],[-4.93,-0.67],[-4.92,-0.77],[-4.90,-1.24],
[-4.86,-1.32],[-4.88,-0.74],[-4.84,-1.60],[-4.87,-1.30],[-4.82,-0.94],[-4.80,-1.14],[-4.80,-1.17],[-4.78,-1.77],[-4.69,-2.00],[-4.72,-1.64],[-4.71,-2.02],[-4.68,-2.09],
[-4.61,-2.26],[-4.62,-1.54],[-4.63,-1.74],[-4.66,-1.94],[-4.51,-1.80],[-4.52,-1.87],[-4.48,-2.38],[-4.49,-2.31],[-4.42,-2.43],[-4.40,-2.61],[-4.41,-2.45],[-4.38,-2.50],
[-4.31,-2.77],[-4.23,-2.35],[-4.26,-2.61],[-4.21,-2.81],[-4.07,-2.52],[-4.11,-3.11],[-4.05,-2.64],[-4.17,-2.66],[-3.90,-3.14],[-3.93,-2.65],[-3.89,-2.81],[-4.04,-3.40],
[-3.86,-3.18],[-3.75,-3.52],[-3.73,-2.83],[-3.81,-3.26],[-3.64,-3.49],[-3.66,-3.36],[-3.62,-3.68],[-3.57,-3.83],[-3.53,-3.35],[-3.52,-3.50],[-3.45,-4.03],[-3.53,-3.83],
[-3.15,-3.69],[-3.31,-4.18],[-3.34,-3.36],[-3.24,-3.48],[-2.99,-4.17],[-3.11,-4.39],[-2.95,-3.99],[-3.10,-4.20],[-2.87,-4.26],[-2.85,-4.38],[-2.79,-4.42],[-2.82,-4.52],
[-2.64,-4.00],[-2.56,-3.97],[-2.61,-4.58],[-2.63,-3.99],[-2.38,-4.07],[-2.32,-4.38],[-2.35,-4.55],[-2.47,-4.10],[-2.22,-4.69],[-2.11,-4.37],[-2.19,-4.54],[-2.10,-4.88],
[-1.82,-4.73],[-1.79,-4.67],[-2.01,-4.53],[-2.02,-4.21],[-1.66,-4.71],[-1.71,-4.64],[-1.76,-4.96],[-1.71,-4.88],[-1.53,-4.59],[-1.38,-4.76],[-1.45,-4.71],[-1.36,-4.88],
[-1.26,-4.58],[-1.06,-5.06],[-1.15,-4.88],[-1.19,-5.21],[-0.84,-5.22],[-0.95,-4.97],[-1.00,-5.35],[-0.81,-4.61],[-0.62,-5.32],[-0.61,-5.17],[-0.54,-5.40],[-0.59,-4.57],
[-0.26,-4.67],[-0.39,-5.25],[-0.30,-5.35],[-0.29,-4.94],[-0.19,-4.92],[-0.17,-4.87],[-0.12,-5.04],[-0.23,-5.25],
[0.09,-4.60],[0.16,-4.65],[0.07,-4.96],[0.23,-4.61],[0.28,-5.41],[0.38,-4.71],[0.37,-4.58],[0.33,-5.04],[0.69,-5.16],[0.74,-4.68],[0.55,-5.33],[0.62,-4.73],
[0.87,-4.78],[0.79,-4.84],[0.84,-5.07],[0.78,-4.97],[1.17,-4.76],[1.07,-5.06],[1.05,-4.89],[1.23,-4.81],[1.48,-4.81],[1.41,-5.03],[1.52,-4.91],[1.29,-4.47],
[1.71,-4.46],[1.56,-4.88],[1.62,-4.57],[1.68,-4.92],[2.01,-4.96],[1.83,-5.06],[1.91,-4.26],[1.99,-4.25],[2.16,-4.56],[2.05,-4.38],[2.08,-4.19],[2.26,-4.37],
[2.33,-4.01],[2.34,-4.53],[2.31,-4.30],[2.37,-4.54],[2.71,-3.94],[2.66,-4.62],[2.62,-4.31],[2.58,-4.32],[2.80,-4.34],[2.89,-3.99],[2.93,-3.83],[2.85,-4.45],
[2.94,-4.07],[3.07,-4.10],[2.94,-4.36],[2.96,-4.19],[3.21,-4.23],[3.25,-3.81],[3.15,-4.12],[3.24,-4.14],[3.51,-3.42],[3.35,-3.43],[3.47,-3.68],[3.45,-3.30],
[3.56,-3.89],[3.69,-3.30],[3.60,-3.84],[3.66,-3.61],[3.80,-3.20],[3.88,-2.91],[3.74,-3.55],[3.73,-3.27],[3.98,-2.76],[4.04,-3.02],[3.94,-3.41],[3.89,-3.31],
[4.16,-2.42],[4.15,-3.03],[4.10,-3.02],[4.13,-3.06],[4.28,-2.70],[4.28,-2.24],[4.22,-2.42],[4.27,-2.58],[4.34,-2.26],[4.36,-2.52],[4.44,-2.14],[4.35,-2.01],
[4.54,-2.01],[4.55,-2.49],[4.56,-1.95],[4.48,-2.65],[4.58,-2.34],[4.65,-2.02],[4.60,-1.93],[4.57,-2.43],[4.68,-1.79],[4.74,-1.29],[4.71,-2.08],[4.67,-1.64],
[4.79,-1.41],[4.80,-1.72],[4.78,-1.14],[4.83,-1.61],[4.87,-0.97],[4.88,-1.10],[4.89,-0.65],[4.87,-1.45],[4.91,-1.30],[4.90,-0.91],[4.93,-0.41],[4.93,-0.99],
[4.95,-1.12],[4.95,-0.52],[4.97,-0.36],[4.94,-0.88],[4.98,-0.39],[4.99,-0.19],[4.99,-0.23],[4.98,-0.58],[5.00,-0.23],[4.99,-0.58]
];
const class1Points = class1PartA.concat(class1PartB);
const class0Points = class0PartA.concat(class0PartB);
const xTicks = [-4, -2, 0, 2, 4];
const yTicks = [-6, -4, -2, 0, 2, 4, 6];
const seriesNames = ["Class 1", "Class 0"];
const seriesColors = ["black", "red"];
const xLabel = ["xl"];
const yLabel = ["x2"];

const fmt = d3.format("d");
const dotStyle = c => ({x: d => d[0], y: d => d[1], r: 4.2, fill: c, fillOpacity: 0.5, stroke: c, strokeOpacity: 0.5, strokeWidth: 1.3});

const plot = Plot.plot({
  width: 689, height: 525,
  marginLeft: 60, marginRight: 9, marginTop: 10, marginBottom: 53,
  style: {fontFamily: "'DejaVu Sans', sans-serif", fontSize: "13.9px", color: "black", background: "white", overflow: "visible"},
  x: {domain: [-5.45, 5.49], ticks: xTicks, tickFormat: fmt, tickSize: 5, tickPadding: 6, label: null},
  y: {domain: [-6.21, 6.5], ticks: yTicks, tickFormat: fmt, tickSize: 5, tickPadding: 6, label: null},
  marks: [
    Plot.dot(class1Points, dotStyle(seriesColors[0])),
    Plot.dot(class0Points, dotStyle(seriesColors[1])),
    Plot.ruleX(xTicks, {stroke: "#b0b0b0", strokeWidth: 1.1}),
    Plot.ruleY(yTicks, {stroke: "#b0b0b0", strokeWidth: 1.1}),
    Plot.frame({stroke: "black", strokeWidth: 1.1}),
    Plot.text(xLabel, {frameAnchor: "bottom", lineAnchor: "middle", textAnchor: "middle", dy: 35, fontSize: 13.9}),
    Plot.text(yLabel, {frameAnchor: "left", lineAnchor: "middle", textAnchor: "middle", rotate: -90, dx: -43, fontSize: 13.9})
  ]
});

const svg = d3.select(plot);
const lg = svg.append("g").attr("font-family", "'DejaVu Sans', sans-serif").attr("font-size", "13.9px").attr("text-anchor", "start");
lg.append("rect").attr("x", 573.5).attr("y", 17.5).attr("width", 100).attr("height", 45)
  .attr("rx", 3).attr("fill", "white").attr("fill-opacity", 0.8).attr("stroke", "#cccccc");
seriesNames.forEach((name, i) => {
  const cy = 30.7 + i * 20.4;
  lg.append("circle").attr("cx", 593.3).attr("cy", cy).attr("r", 4.2)
    .attr("fill", seriesColors[i]).attr("fill-opacity", 0.5)
    .attr("stroke", seriesColors[i]).attr("stroke-opacity", 0.5).attr("stroke-width", 1.3);
  lg.append("text").attr("x", 618.3).attr("y", cy).attr("dy", "0.35em").attr("text-anchor", "start").attr("fill", "black").text(name);
});
document.getElementById("chart").appendChild(plot);
</script>
</body></html>
